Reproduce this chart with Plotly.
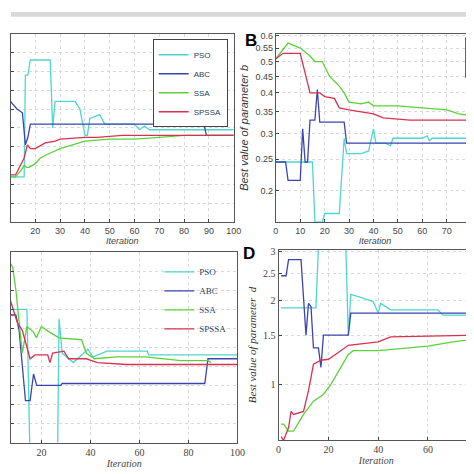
import plotly.graph_objects as go

names = ["PSO", "ABC", "SSA", "SPSSA"]
colors = ["#4fd6cf", "#3a45b0", "#5cd13a", "#d8324f"]

# Panel A (y axis labels cropped away; relative units)
a_pso_x = [10, 15.5, 16, 17, 18, 26, 27, 28, 36, 38, 40, 41, 42, 46, 48, 60, 62, 64, 66, 100]
a_pso_y = [0.24, 0.24, 0.78, 0.78, 0.86, 0.86, 0.5, 0.64, 0.64, 0.6, 0.46, 0.46, 0.55, 0.57, 0.52, 0.52, 0.49, 0.51, 0.49, 0.49]
a_abc_x = [10, 12.6, 14.8, 16, 17, 18, 28, 88, 89, 100]
a_abc_y = [0.64, 0.6, 0.58, 0.41, 0.45, 0.52, 0.52, 0.52, 0.46, 0.46]
a_ssa_x = [10, 12, 14, 15.5, 16.5, 17.5, 20, 22, 25, 28, 30, 35, 40, 50, 60, 70, 80, 100]
a_ssa_y = [0.24, 0.24, 0.27, 0.3, 0.29, 0.29, 0.31, 0.34, 0.36, 0.38, 0.39, 0.41, 0.43, 0.44, 0.44, 0.45, 0.46, 0.46]
a_sps_x = [10, 12, 14, 15.5, 16.8, 18, 20, 24, 28, 30, 40, 45, 55, 100]
a_sps_y = [0.25, 0.25, 0.3, 0.34, 0.41, 0.39, 0.39, 0.42, 0.43, 0.44, 0.45, 0.45, 0.46, 0.46]

# Panel B (best value of parameter b)
b_pso_x = [0, 15, 16, 19, 20, 26, 28, 29, 35, 38, 40, 41, 45, 47, 48, 60, 62, 63, 64, 86]
b_pso_y = [0.245, 0.245, 0.16, 0.16, 0.17, 0.17, 0.29, 0.26, 0.26, 0.265, 0.31, 0.28, 0.28, 0.275, 0.29, 0.29, 0.295, 0.285, 0.29, 0.29]
b_abc_x = [0, 4, 5, 10, 11, 12, 13, 14, 16, 17, 18, 28, 29, 86]
b_abc_y = [0.245, 0.245, 0.215, 0.215, 0.31, 0.245, 0.245, 0.33, 0.33, 0.41, 0.325, 0.325, 0.28, 0.28]
b_ssa_x = [0, 5, 10, 14, 16, 19, 22, 26, 28, 30, 35, 38, 40, 50, 60, 70, 75, 86]
b_ssa_y = [0.51, 0.57, 0.55, 0.52, 0.5, 0.5, 0.45, 0.42, 0.4, 0.375, 0.37, 0.375, 0.365, 0.365, 0.36, 0.355, 0.345, 0.335]
b_sps_x = [0, 3, 10, 12, 14, 18, 20, 24, 26, 30, 40, 44, 55, 86]
b_sps_y = [0.51, 0.53, 0.53, 0.46, 0.4, 0.4, 0.39, 0.385, 0.36, 0.355, 0.345, 0.335, 0.33, 0.33]

# Panel C (y axis labels cropped away; relative units)
c_pso_x = [7, 14.1, 15.2, 16, 26.5, 27.2, 28.5, 33, 39, 41, 46.8, 63.2, 63.8, 100]
c_pso_y = [0.7, 0.7, 0.02, -0.2, -0.2, 0.65, 0.47, 0.42, 0.49, 0.45, 0.48, 0.48, 0.46, 0.46]
c_abc_x = [7, 9.6, 10.9, 12.2, 13.5, 15.4, 16.8, 18.1, 27.9, 28.5, 86.7, 88, 100]
c_abc_y = [0.67, 0.67, 0.59, 0.42, 0.22, 0.22, 0.36, 0.3, 0.3, 0.31, 0.31, 0.44, 0.44]
c_ssa_x = [7, 8.3, 9.6, 12.2, 14.1, 16.8, 18, 20, 23.3, 27.2, 36.4, 38.3, 41.6, 50.7, 62.5, 76.9, 88, 89.3]
c_ssa_y = [0.95, 0.92, 0.8, 0.47, 0.61, 0.58, 0.55, 0.61, 0.58, 0.55, 0.54, 0.47, 0.44, 0.45, 0.45, 0.43, 0.43, 0.42]
c_sps_x = [7, 10.2, 12.2, 15.4, 17.4, 22.6, 23.5, 24.6, 29.2, 31.1, 38.3, 42.9, 54.7, 100]
c_sps_y = [0.76, 0.63, 0.59, 0.44, 0.46, 0.46, 0.42, 0.47, 0.48, 0.44, 0.44, 0.42, 0.41, 0.41]

# Panel D (best value of parameter d)
d_pso_x = [1, 15, 16, 27, 28, 29, 33, 38, 40, 41, 45, 64, 66, 80]
d_pso_y = [1.88, 1.88, 3.1, 3.1, 1.5, 2.1, 2.05, 1.98, 1.8, 1.95, 1.85, 1.85, 1.77, 1.77]
d_abc_x = [1, 3, 4, 9, 11, 12, 13, 14, 16, 17, 18, 28, 29, 80]
d_abc_y = [2.45, 2.45, 2.8, 2.8, 1.5, 1.95, 1.9, 1.35, 1.35, 1.15, 1.5, 1.5, 1.8, 1.8]
d_ssa_x = [1, 2, 4, 6, 10, 12, 14, 18, 21, 25, 28, 30, 40, 60, 70, 80]
d_ssa_y = [0.72, 0.72, 0.68, 0.68, 0.78, 0.82, 0.87, 0.92, 1.0, 1.15, 1.28, 1.32, 1.32, 1.37, 1.42, 1.46]
d_sps_x = [1, 2, 4, 5, 6, 10, 12, 14, 17, 20, 24, 28, 40, 45, 80]
d_sps_y = [0.65, 0.63, 0.7, 0.8, 0.78, 0.8, 0.95, 1.18, 1.22, 1.23, 1.3, 1.38, 1.42, 1.48, 1.5]

panels = [
    ("x", "y", [(a_pso_x, a_pso_y), (a_abc_x, a_abc_y), (a_ssa_x, a_ssa_y), (a_sps_x, a_sps_y)], "legend"),
    ("x2", "y2", [(b_pso_x, b_pso_y), (b_abc_x, b_abc_y), (b_ssa_x, b_ssa_y), (b_sps_x, b_sps_y)], None),
    ("x3", "y3", [(c_pso_x, c_pso_y), (c_abc_x, c_abc_y), (c_ssa_x, c_ssa_y), (c_sps_x, c_sps_y)], "legend2"),
    ("x4", "y4", [(d_pso_x, d_pso_y), (d_abc_x, d_abc_y), (d_ssa_x, d_ssa_y), (d_sps_x, d_sps_y)], None),
]

fig = go.Figure()
for xa, ya, series, leg in panels:
    for i, (xs, ys) in enumerate(series):
        fig.add_trace(go.Scatter(
            x=xs, y=ys, xaxis=xa, yaxis=ya, mode="lines", name=names[i],
            line=dict(color=colors[i], width=1.3),
            showlegend=leg is not None, legend=leg or "legend",
        ))

sans = dict(family="Liberation Sans", size=9, color="#444")
serif = dict(family="Liberation Serif", size=10, color="#444")
grid = dict(showgrid=True, gridcolor="#d8d8d8", griddash="dot", showline=True,
            linecolor="#555", mirror=True, ticks="inside", ticklen=3, zeroline=False)

fig.update_layout(
    width=474, height=474, margin=dict(l=0, r=0, t=0, b=0),
    paper_bgcolor="white", plot_bgcolor="white",
    xaxis=dict(domain=[0, 0.481], range=[10.2, 100], dtick=10, tickfont=sans, anchor="y",
               title=dict(text="<i>Iteration</i>", font=sans, standoff=2), **grid),
    yaxis=dict(domain=[0.553, 0.954], range=[0, 1], dtick=0.1, showticklabels=False, anchor="x", **grid),
    xaxis2=dict(domain=[0.572, 1], range=[0, 81.2], dtick=10, tickfont=sans, anchor="y2",
                title=dict(text="<i>Iteration</i>", font=sans, standoff=2), **grid),
    yaxis2=dict(domain=[0.553, 0.954], type="log", range=[-0.796, -0.215], anchor="x2",
                tickvals=[0.2, 0.25, 0.3, 0.35, 0.4, 0.45, 0.5, 0.55, 0.6], tickfont=sans,
                title=dict(text="<i>Best value of parameter b</i>", font=dict(family="Liberation Sans", size=11, color="#333"), standoff=4),
                **grid),
    xaxis3=dict(domain=[0, 0.489], range=[7.6, 100], dtick=20, tickfont=serif, anchor="y3",
                title=dict(text="<i>Iteration</i>", font=serif, standoff=2), **grid),
    yaxis3=dict(domain=[0.084, 0.489], range=[0, 1], dtick=0.1, showticklabels=False, anchor="x3", **grid),
    xaxis4=dict(domain=[0.578, 1], range=[0, 78.5], dtick=20, tickfont=serif, anchor="y4",
                title=dict(text="<i>Iteration</i>", font=serif, standoff=2), **grid),
    yaxis4=dict(domain=[0.089, 0.494], type="log", range=[-0.2, 0.482], anchor="x4",
                tickvals=[1, 1.5, 2, 2.5, 3], tickfont=serif,
                title=dict(text="<i>Best value of parameter  d</i>", font=dict(family="Liberation Serif", size=11, color="#333"), standoff=4),
                **grid),
    legend=dict(x=0.468, y=0.942, xanchor="right", yanchor="top", bgcolor="white",
                bordercolor="#444", borderwidth=1, font=dict(family="Liberation Sans", size=8),
                tracegroupgap=0, itemwidth=30),
    legend2=dict(x=0.478, y=0.478, xanchor="right", yanchor="top", bgcolor="rgba(0,0,0,0)",
                 font=dict(family="Liberation Serif", size=9), tracegroupgap=0, itemwidth=30),
    annotations=[
        dict(text="<b>B</b>", x=246 / 474, y=1 - 17 / 474, xref="paper", yref="paper", showarrow=False,
             font=dict(family="Liberation Sans", size=17, color="black")),
        dict(text="<b>D</b>", x=244 / 474, y=1 - 244 / 474, xref="paper", yref="paper", showarrow=False,
             font=dict(family="Liberation Sans", size=17, color="black")),
    ],
    shapes=[
        dict(type="rect", xref="paper", yref="paper", x0=0, x1=1, y0=0.99, y1=1,
             fillcolor="#d9d9d9", line_width=0),
        dict(type="rect", xref="paper", yref="paper", x0=0.982, x1=1.01, y0=1 - 66 / 474, y1=1 - 26 / 474,
             fillcolor="white", line=dict(color="#444", width=1)),
    ],
)

fig.write_html("out.html")
